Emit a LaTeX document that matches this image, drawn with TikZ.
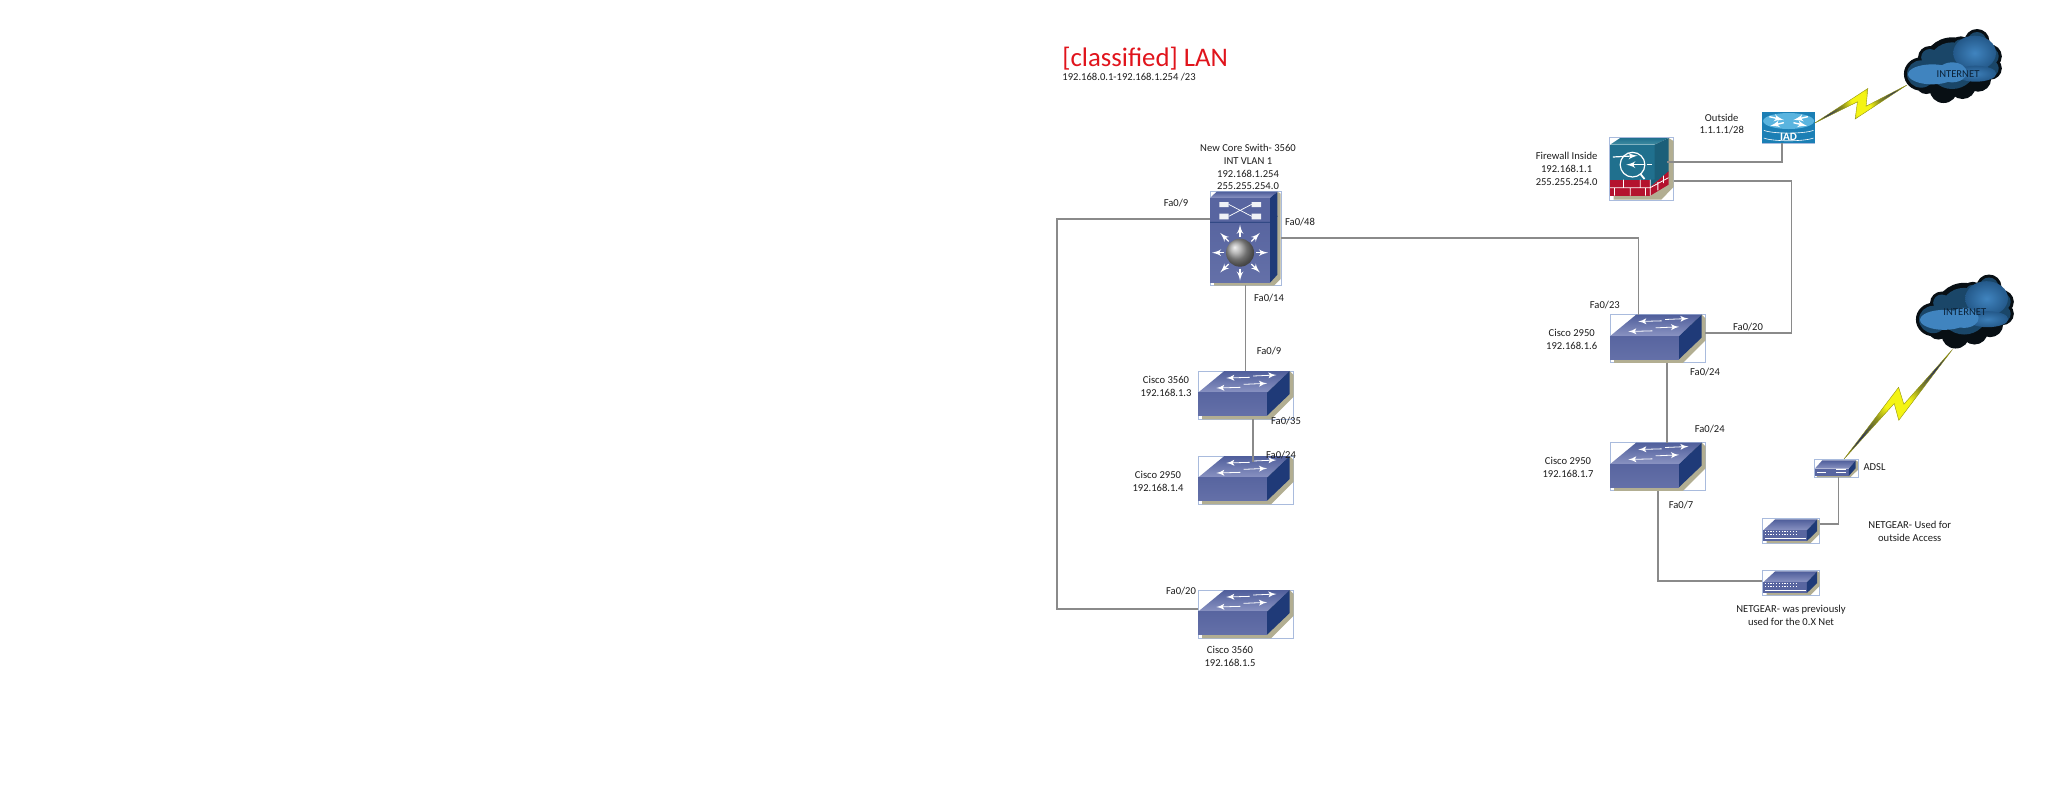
\documentclass[tikz,border=0pt]{standalone}
\usepackage{fontspec}
\setmainfont{Carlito}
\usepackage{xcolor}
\definecolor{FRAMECOLOR}{HTML}{A9BBDD}
\definecolor{LINKCOLOR}{HTML}{8A8A8A}
\definecolor{TEXTCOLOR}{HTML}{1C1C1C}
\definecolor{TITLECOLOR}{HTML}{E0141C}
\definecolor{SHADOWCOLOR}{HTML}{B2AE92}
\definecolor{FRONTCOLOR}{HTML}{6470A8}
\definecolor{FRONTDARK}{HTML}{5865A0}
\definecolor{TOPLIGHT}{HTML}{8A93C2}
\definecolor{TOPDARK}{HTML}{4F5E9B}
\definecolor{SIDECOLOR}{HTML}{1F3A78}
\definecolor{TEALCOLOR}{HTML}{20708E}
\definecolor{TEALLIGHT}{HTML}{3F8CA2}
\definecolor{BRICKCOLOR}{HTML}{B4122E}
\definecolor{ROUTERCOLOR}{HTML}{1B7FB5}
\definecolor{ROUTERTOP}{HTML}{5AB4DF}
\definecolor{CLOUDEDGE}{HTML}{080F14}
\definecolor{CLOUDDEEP}{HTML}{1A4668}
\definecolor{CLOUDMID}{HTML}{24598A}
\definecolor{CLOUDLIGHT}{HTML}{4084BF}
\definecolor{CLOUDTEXT}{HTML}{0B2238}
\definecolor{BOLTEND}{HTML}{2A3060}
\definecolor{BOLTMID}{HTML}{8A8E20}
\definecolor{BOLTCOLOR}{HTML}{F4F414}
\usepackage{tikz}
\usetikzlibrary{arrows,positioning,calc}
\pgfdeclarehorizontalshading{boltshade}{100bp}{
  color(0bp)=(BOLTEND); color(27bp)=(BOLTEND); color(38bp)=(BOLTMID);
  color(45bp)=(BOLTCOLOR); color(55bp)=(BOLTCOLOR); color(62bp)=(BOLTMID);
  color(73bp)=(BOLTEND); color(100bp)=(BOLTEND)
}
\tikzset{
  device-style/.style = {
    rectangle, draw=FRAMECOLOR, line width=0.35pt,
    inner sep=0pt, outer sep=0pt
  },
  switch-style/.style = {
    device-style, minimum width=47.5pt, minimum height=24pt
  },
  core-style/.style = {
    device-style, minimum width=35.5pt, minimum height=47pt
  },
  firewall-style/.style = {
    device-style, minimum width=32pt, minimum height=31.5pt
  },
  router-style/.style = {
    device-style, minimum width=26.2pt, minimum height=15.5pt
  },
  netgear-style/.style = {
    device-style, minimum width=28.6pt, minimum height=12.5pt
  },
  adsl-style/.style = {
    device-style, minimum width=22pt, minimum height=9pt
  },
  cloud-style/.style = {
    rectangle, inner sep=0pt, outer sep=0pt,
    minimum width=49.1pt, minimum height=37pt
  },
  icon-style/.style = {
    x=0.1667pt, y=-0.1667pt
  },
  link-style/.style = {
    draw=LINKCOLOR, line width=0.55pt
  },
  flow-style/.style = {
    draw=white, line width=#1, ->, >=latex'
  },
  flow-style/.default = 0.4pt,
  label-style/.style = {
    align=center, inner sep=0pt, text=TEXTCOLOR,
    font=\fontsize{5.3}{6.4}\selectfont
  }
}
\def\createSwitch name:#1 place:#2;{
  \node [switch-style, #2] (#1) {};
  \begin{scope}[icon-style, shift={(#1.north west)}]
    \fill[SHADOWCOLOR] (12,125) -- (12,145) -- (219,145) -- (287,77) -- (287,12) -- (275,0) -- (207,65) -- cycle;
    \shade[top color=TOPDARK, bottom color=TOPLIGHT] (0,65) -- (79,0) -- (275,0) -- (207,65) -- cycle;
    \shade[top color=FRONTDARK, bottom color=FRONTCOLOR] (0,65) rectangle (207,134);
    \fill[SIDECOLOR] (207,65) -- (275,0) -- (275,69) -- (207,134) -- cycle;
    \draw[flow-style] (155,19) -- (85,21);
    \draw[flow-style] (165,15) -- (235,12);
    \draw[flow-style] (127,49) -- (55,51);
    \draw[flow-style] (137,40) -- (207,37);
  \end{scope}
}
\def\createCore name:#1 place:#2;{
  \node [core-style, #2] (#1) {};
  \begin{scope}[icon-style, shift={(#1.north west)}]
    \fill[SHADOWCOLOR] (12,270) -- (12,284) -- (192,284) -- (212,264) -- (212,8) -- (202,2) -- (180,270) -- cycle;
    \shade[top color=TOPDARK, bottom color=TOPLIGHT] (0,21) -- (20,2) -- (202,2) -- (180,21) -- cycle;
    \fill[FRONTDARK] (0,21) rectangle (180,94);
    \shade[top color=FRONTDARK, bottom color=FRONTCOLOR] (0,94) rectangle (180,275);
    \fill[SIDECOLOR] (180,21) -- (202,2) -- (202,251) -- (180,275) -- cycle;
    \draw[SIDECOLOR, line width=0.4pt] (0,94) -- (180,94) -- (202,75);
    \fill[white!90!FRONTCOLOR] (28,33) rectangle (56,48) (125,33) rectangle (153,48)
      (28,68) rectangle (56,85) (125,68) rectangle (153,85);
    \draw[white, line width=0.35pt] (56,40) -- (125,76) (56,76) -- (125,40);
    \foreach \a in {0,45,...,315}
      \draw[flow-style=0.6pt] (90,185) ++(\a:48) -- ++(\a:36);
    \shade[ball color=gray!75] (90,185) circle (42);
  \end{scope}
}
\def\createFirewall name:#1 place:#2;{
  \node [firewall-style, #2] (#1) {};
  \begin{scope}[icon-style, shift={(#1.north west)}]
    \fill[SHADOWCOLOR] (12,170) -- (12,188) -- (155,188) -- (192,150) -- (192,12) -- (177,3) -- (122,176) -- cycle;
    \shade[top color=TEALCOLOR, bottom color=TEALLIGHT] (2,23) -- (32,3) -- (177,3) -- (135,23) -- cycle;
    \fill[TEALCOLOR] (2,23) rectangle (135,128);
    \fill[TEALCOLOR!85!black] (135,23) -- (177,3) -- (177,105) -- (122,150) -- (122,128) -- (135,128) -- cycle;
    \fill[BRICKCOLOR] (2,128) rectangle (122,176);
    \fill[BRICKCOLOR] (122,150) -- (177,103) -- (177,143) -- (122,176) -- cycle;
    \draw[white, line width=0.4pt] (2,152) -- (122,152) -- (177,122)
      (42,128) -- (42,152) (92,128) -- (92,152)
      (15,152) -- (15,176) (62,152) -- (62,176) (108,152) -- (108,176)
      (122,128) -- (122,176) (145,135) -- (145,160) (162,116) -- (162,138);
    \draw[white, line width=0.6pt] (69,83) circle (37);
    \draw[white, line width=0.9pt] (92,110) -- (105,126);
    \draw[flow-style=0.6pt] (10,60) -- (84,56);
    \draw[flow-style=0.6pt] (106,83) -- (50,83);
    \draw[white, line width=0.6pt] (112,83) -- (127,83);
  \end{scope}
}
\def\createRouter name:#1 place:#2;{
  \node [router-style, #2] (#1) {};
  \begin{scope}[icon-style, shift={(#1.north west)}, xscale=1.034]
    \fill[ROUTERCOLOR] (0,0) rectangle (152,92);
    \fill[ROUTERTOP] (76,27) ellipse (74 and 24);
    \draw[white, line width=0.3pt] (4,55) .. controls (30,66) and (122,66) .. (148,55);
    \draw[white, line width=0.3pt] (4,78) .. controls (30,89) and (122,89) .. (148,78);
    \draw[flow-style=0.7pt] (20,14) -- (62,24);
    \draw[flow-style=0.7pt] (132,14) -- (90,24);
    \draw[flow-style=0.7pt] (62,32) -- (22,42);
    \draw[flow-style=0.7pt] (90,32) -- (130,42);
    \node [text=white, inner sep=0pt, font=\fontsize{5.6}{6}\selectfont\bfseries] (#1-text) at (76,75) {IAD};
  \end{scope}
}
\def\createNetgear name:#1 place:#2;{
  \node [netgear-style, #2] (#1) {};
  \begin{scope}[icon-style, shift={(#1.north west)}, xscale=1.034]
    \fill[SHADOWCOLOR] (12,64) -- (12,75) -- (140,75) -- (166,48) -- (166,8) -- (159,4) -- (129,37) -- cycle;
    \shade[top color=TOPDARK, bottom color=TOPLIGHT] (2,37) -- (37,4) -- (159,4) -- (129,37) -- cycle;
    \fill[FRONTDARK] (2,37) rectangle (129,69);
    \fill[SIDECOLOR] (129,37) -- (159,4) -- (159,39) -- (129,69) -- cycle;
    \draw[white, line width=0.7pt, dash pattern=on 0.6pt off 0.8pt] (7,41) -- (100,41) (7,49) -- (100,49);
    \draw[white, line width=0.35pt] (7,60) -- (125,60);
  \end{scope}
}
\def\createAdsl name:#1 place:#2;{
  \node [adsl-style, #2] (#1) {};
  \begin{scope}[icon-style, shift={(#1.north west)}, xscale=1.034]
    \fill[SHADOWCOLOR] (8,49) -- (8,55) -- (105,55) -- (127,33) -- (127,8) -- (121,4) -- (101,29) -- cycle;
    \shade[top color=TOPDARK, bottom color=TOPLIGHT] (2,29) -- (24,4) -- (121,4) -- (101,29) -- cycle;
    \fill[FRONTDARK] (2,29) rectangle (101,51);
    \fill[SIDECOLOR] (101,29) -- (121,4) -- (121,27) -- (101,51) -- cycle;
    \draw[white, line width=0.35pt] (9,41) -- (34,41) (64,31) -- (94,31) (64,41) -- (94,41);
  \end{scope}
}
\def\createCloud name:#1 place:#2;{
  \node [cloud-style, #2] (#1) {};
  \begin{scope}[icon-style, shift={(#1.north west)}, xscale=1.034]
    % black rim first, the same lobes smaller on top of it
    \foreach \cx/\cy/\r in {50/135/50, 75/85/34, 125/68/32, 165/52/30, 212/36/36, 248/82/36,
      250/118/34, 215/150/38, 170/172/38, 115/182/40, 65/165/30, 140/110/85}
      \fill[CLOUDEDGE] (\cx,\cy) circle (\r);
    \foreach \cx/\cy/\r in {50/135/41, 75/85/25, 125/68/23, 165/52/21, 212/36/27, 248/82/27,
      250/118/25, 140/110/70}
      \fill[CLOUDDEEP] (\cx,\cy) circle (\r);
    \shade[inner color=CLOUDLIGHT, outer color=CLOUDMID] (205,72) ellipse (62 and 52);
    \shade[inner color=CLOUDLIGHT!85!CLOUDMID, outer color=CLOUDMID] (208,134) ellipse (60 and 24);
    \fill[CLOUDLIGHT] (82,136) ellipse (70 and 30);
    \fill[CLOUDLIGHT] (140,130) ellipse (42 and 30);
  \end{scope}
}
\def\createBolt from:#1 to:#2;{
  \pgfmathanglebetweenpoints{\pgfpointanchor{#1}{center}}{\pgfpointanchor{#2}{center}}
  \let\boltAngle\pgfmathresult
  \begin{scope}[icon-style, shift={($(#1)!0.5!(#2)$)}, rotate=\boltAngle]
    \coordinate (#1-peak) at (37,-35);
    \coordinate (#2-trough) at (-33,35);
    \shadedraw[draw=BOLTCOLOR!60!black, line width=0.2pt, shading=boltshade, shading angle=\boltAngle]
      (#1) -- (#1-peak) -- (12,12) -- (#2) -- (#2-trough) -- (-7,-10) -- cycle;
  \end{scope}
}
\def\createLabel name:#1 at:#2 text:#3;{
  \node [label-style] (#1) at #2 {#3};
}

\begin{document}
\begin{tikzpicture}[x=0.5pt, y=-0.5pt]
    \useasboundingbox (0,0) rectangle (2048,810);

    % left side
    \createCore name:core place:{at={(1245.5,238)}};
    \createSwitch name:swa place:{below=43pt of core};
    \createSwitch name:swb place:{below=18.5pt of swa};
    \createSwitch name:swc place:{below=43pt of swb};

    % right side
    \createFirewall name:fw place:{at={(1641.5,168.5)}};
    \createRouter name:iad place:{at={(1788.6,127.5)}};
    \createSwitch name:swd place:{at={(1657.5,338.5)}};
    \createSwitch name:swe place:{below=40pt of swd};
    \createAdsl name:adsl place:{at={(1836,468)}};
    \createNetgear name:nga place:{at={(1791,530.5)}};
    \createNetgear name:ngb place:{below=13.5pt of nga};
    \createCloud name:cloudup place:{at={(1953,66)}};
    \createCloud name:clouddown place:{at={(1965,311.5)}};

    % links
    \draw[link-style] ([yshift=9.5pt]core.west) -- ++(-76.5pt,0) |- ([yshift=2.5pt]swc.west);
    \draw[link-style] (core.east) -| ([xshift=-9.45pt]swd.north);
    \draw[link-style] (core.south) -- (swa.north);
    \draw[link-style] ([xshift=3.75pt]swa.south) -- ([xshift=3.75pt,yshift=-3pt]swb.north);
    \draw[link-style] ([xshift=-3.2pt,yshift=3.25pt]fw.east) -| ([xshift=-3.3pt]iad.south);
    \draw[link-style] ([yshift=-6.25pt]fw.east) -- ++(58.8pt,0) |- ([yshift=2.75pt]swd.east);
    \draw[link-style] ([xshift=4.75pt]swd.south) -- ([xshift=4.75pt]swe.north);
    \draw[link-style] ([xshift=0.25pt]swe.south) |- ([yshift=0.75pt]ngb.west);
    \draw[link-style] ([xshift=1.3pt]adsl.south) |- ([yshift=3.25pt]nga.east);

    \coordinate (iadbolt) at ([yshift=2.25pt]iad.east);
    \coordinate (cloudupbolt) at ([xshift=1.5pt,yshift=-9.5pt]cloudup.west);
    \createBolt from:iadbolt to:cloudupbolt;
    \coordinate (adslbolt) at ([xshift=4pt]adsl.north);
    \coordinate (clouddownbolt) at ([xshift=-6.3pt,yshift=-0.5pt]clouddown.south);
    \createBolt from:adslbolt to:clouddownbolt;

    % title
    \node [anchor=west, inner sep=0pt, text=TITLECOLOR, font=\fontsize{13.4}{15}\selectfont] (title) at (1062,59) {[classified] LAN};
    \node [anchor=west, inner sep=0pt, text=TEXTCOLOR, font=\fontsize{5.3}{6.4}\selectfont] (range) at (1062,77) {192.168.0.1-192.168.1.254 /23};

    % labels
    \createLabel name:corelabel at:{(1248,167)} text:{New Core Swith- 3560\\INT VLAN 1\\192.168.1.254\\255.255.254.0};
    \createLabel name:swalabel at:{(1166,386)} text:{Cisco 3560\\192.168.1.3};
    \createLabel name:swblabel at:{(1158,481)} text:{Cisco 2950\\192.168.1.4};
    \createLabel name:swclabel at:{(1230,656)} text:{Cisco 3560\\192.168.1.5};
    \createLabel name:fwlabel at:{(1566.6,169)} text:{Firewall Inside\\192.168.1.1\\255.255.254.0};
    \createLabel name:outlabel at:{(1721.7,124)} text:{Outside\\1.1.1.1/28};
    \createLabel name:swdlabel at:{(1571.7,339)} text:{Cisco 2950\\192.168.1.6};
    \createLabel name:swelabel at:{(1568,467)} text:{Cisco 2950\\192.168.1.7};
    \createLabel name:adsllabel at:{(1874.5,467)} text:{ADSL};
    \createLabel name:ngalabel at:{(1909.7,531)} text:{NETGEAR- Used for\\outside Access};
    \createLabel name:ngblabel at:{(1791,615)} text:{NETGEAR- was previously\\used for the 0.X Net};

    % ports
    \createLabel name:porta at:{(1176,203)} text:{Fa0/9};
    \createLabel name:portb at:{(1300,222)} text:{Fa0/48};
    \createLabel name:portc at:{(1269,298)} text:{Fa0/14};
    \createLabel name:portd at:{(1269,351)} text:{Fa0/9};
    \createLabel name:porte at:{(1286,421)} text:{Fa0/35};
    \createLabel name:portf at:{(1281,455)} text:{Fa0/24};
    \createLabel name:portg at:{(1181,591)} text:{Fa0/20};
    \createLabel name:porth at:{(1604.8,305)} text:{Fa0/23};
    \createLabel name:porti at:{(1748,327)} text:{Fa0/20};
    \createLabel name:portj at:{(1705,372)} text:{Fa0/24};
    \createLabel name:portk at:{(1709.7,429)} text:{Fa0/24};
    \createLabel name:portl at:{(1681,505)} text:{Fa0/7};

    \node [inner sep=0pt, text=CLOUDTEXT, font=\fontsize{5.3}{6.4}\selectfont] (cloudupname) at (1958,74) {INTERNET};
    \node [inner sep=0pt, text=CLOUDTEXT, font=\fontsize{5.3}{6.4}\selectfont] (clouddownname) at (1964.8,312) {INTERNET};
\end{tikzpicture}
\end{document}
